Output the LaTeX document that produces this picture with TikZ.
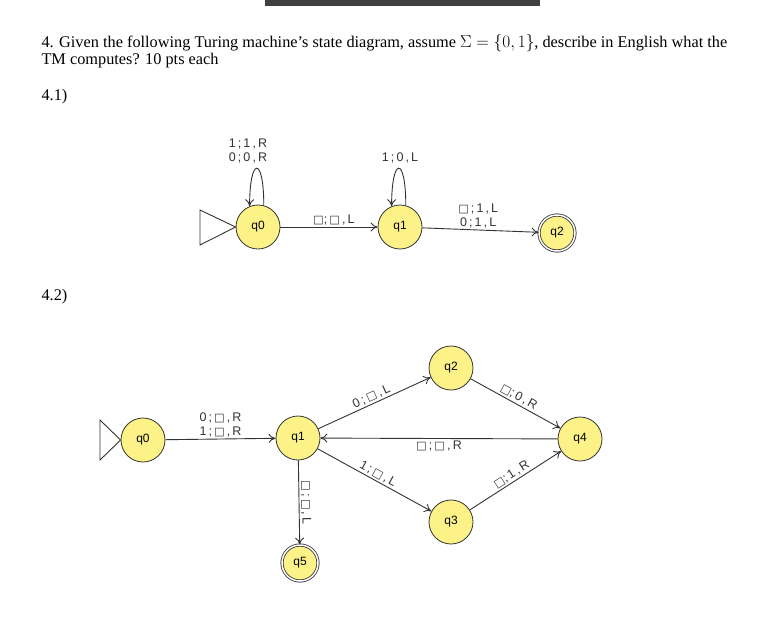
\documentclass[tikz,border=0pt]{standalone}
\usepackage{fontspec}
\setmainfont{Liberation Serif}
\newfontfamily\lsans{Liberation Sans}
\newfontfamily\djv{DejaVu Sans}
\usetikzlibrary{arrows.meta}
\newcommand{\bk}{{\djv\scalebox{0.9}{□}}}
\begin{document}
\begin{tikzpicture}[x=1pt,y=-1pt,
  st/.style={circle,draw=black!80,line width=0.8pt,fill={rgb,255:red,252;green,242;blue,135},minimum size=44pt,inner sep=0pt,font=\lsans\fontsize{12}{12}\selectfont},
  acc/.style={st,double,double distance=1.5pt,minimum size=36pt},
  tr/.style={draw=black!80,-{To[length=7pt,width=9pt]},line width=0.9pt},
  lb/.style={font=\lsans\fontsize{12.5}{14}\selectfont,text=black!80,inner sep=1.5pt,align=center},
  stt/.style={draw=black!80,line width=0.9pt}]
\useasboundingbox (0,0) rectangle (758,630);
\fill[black!75] (265,0) rectangle (540,6);
\node[anchor=west,font=\fontsize{16.3}{17}\selectfont,align=left] (t1) at (38,51) {4. Given the following Turing machine's state diagram, assume $\Sigma=\{0,1\}$, describe in English what the\\TM computes? 10 pts each};
\node[anchor=west,font=\fontsize{16.3}{17}\selectfont] (t2) at (38,97) {4.1)};
\node[anchor=west,font=\fontsize{16.3}{17}\selectfont] (t3) at (38,297) {4.2)};
% diagram 1
\node[st] (a0) at (258,227) {q0};
\node[st] (a1) at (400,227) {q1};
\node[acc] (a2) at (557,233) {q2};
\draw[stt] (a0.west) -- (200,210) -- (200,245) -- cycle;
\draw[tr] (a0) -- node[lb,above,pos=0.55]{\bk;\,\bk\,,\,L} (a1);
\draw[tr] (a1) -- node[lb,above,pos=0.48]{\bk\,;\,1\,,\,L\\0\,;\,1\,,\,L} (a2);
\draw[tr] (a0.75) .. controls +(0,-50) and +(0,-50) .. (a0.112);
\node[lb] (l0) at (248,151) {1\,;\,1\,,\,R\\0\,;\,0\,,\,R};
\draw[tr] (a1.75) .. controls +(0,-50) and +(0,-50) .. (a1.112);
\node[lb] (l1) at (400,158) {1\,;\,0\,,\,L};
% diagram 2
\node[st] (b0) at (143,440) {q0};
\node[st] (b1) at (298,438) {q1};
\node[st] (b2) at (451,368) {q2};
\node[st] (b4) at (580,439) {q4};
\node[st] (b3) at (451,522) {q3};
\node[acc] (b5) at (300,563) {q5};
\draw[stt] (b0.west) -- (100,420) -- (100,460) -- cycle;
\draw[tr] (b0) -- node[lb,above]{0\,;\,\bk\,,\,R\\1\,;\,\bk\,,\,R} (b1);
\draw[tr] (b1) -- node[lb,above,sloped]{0\,;\,\bk\,,\,L} (b2);
\draw[tr] (b2) -- node[lb,above,sloped]{\bk;\,0\,,\,R} (b4);
\draw[tr] (b4) -- node[lb,below]{\bk\,;\,\bk\,,\,R} (b1);
\draw[tr] (b1) -- node[lb,above,sloped]{1\,;\,\bk\,,\,L} (b3);
\draw[tr] (b3) -- node[lb,above,sloped]{\bk;\,1\,,\,R} (b4);
\draw[tr] (b1) -- node[lb,rotate=-90,anchor=south]{\bk\,;\,\bk\,,\,L} (b5);
\end{tikzpicture}
\end{document}
